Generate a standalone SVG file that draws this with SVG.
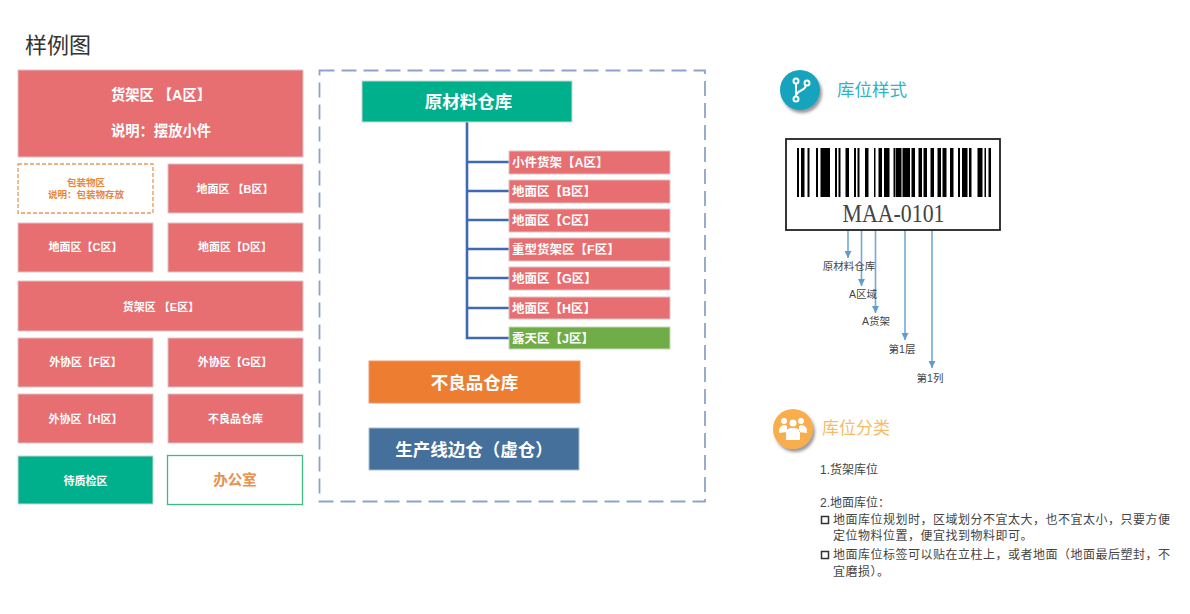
<svg xmlns="http://www.w3.org/2000/svg" width="1190" height="614" viewBox="0 0 1190 614">
<defs>
<style>
text{font-family:"Liberation Sans","Noto Sans CJK SC",sans-serif;}
.c{text-anchor:middle;}
.r{fill:#e76e71;stroke:#dcc4c4;stroke-width:1;}
.w{fill:#fff;font-weight:bold;}
.t10{font-size:11px;}
.t9{font-size:9.5px;font-weight:bold;fill:#e8853c;}
.t14{font-size:14.300px;}
.t16{font-size:17.500px;}
.row{fill:#fff;font-weight:bold;font-size:12.500px;}
.lab{fill:#444;font-size:10.500px;text-anchor:middle;}
.body{fill:#444;font-size:12px;}
.arr{fill:none;stroke:#72aad2;stroke-width:1.600;marker-end:url(#ah);}
.ul{fill:none;stroke:#a9bcd6;stroke-width:1.200;}
.tree{fill:none;stroke:#3f68b5;stroke-width:2.600;}
</style>
<marker id="ah" markerUnits="userSpaceOnUse" markerWidth="8" markerHeight="7" refX="7" refY="3.500" orient="auto"><path d="M0 0L7 3.500L0 7z" fill="#5f9dca"/></marker>
<filter id="sh" x="-30%" y="-30%" width="170%" height="170%"><feDropShadow dx="2" dy="3" stdDeviation="1.500" flood-color="#555" flood-opacity="0.6"/></filter>
</defs>
<rect width="1190" height="614" fill="#fff"/>
<text id="title" x="25" y="53" font-size="22" fill="#333">样例图</text>

<g id="zone-a"><rect class="r" x="18" y="70" width="285" height="87"/><text class="c w t14" x="161" y="100">货架区 【A区】</text><text class="c w t14" x="161" y="136">说明：摆放小件</text></g>
<g id="zone-pack"><rect x="18" y="164" width="135" height="49" fill="#fff" stroke="#e59a5c" stroke-width="1.300" stroke-dasharray="4 2"/><text class="c t9" x="86" y="186">包装物区</text><text class="c t9" x="86" y="198">说明：包装物存放</text></g>
<g id="zone-b"><rect class="r" x="168" y="164" width="135" height="49"/><text class="c w t10" x="235" y="193">地面区 【B区】</text></g>
<g id="zone-c"><rect class="r" x="18" y="223" width="135" height="49"/><text class="c w t10" x="85.500" y="251">地面区【C区】</text></g>
<g id="zone-d"><rect class="r" x="168" y="223" width="135" height="49"/><text class="c w t10" x="235" y="251">地面区【D区】</text></g>
<g id="zone-e"><rect class="r" x="18" y="281" width="285" height="50"/><text class="c w t10" x="161" y="311">货架区 【E区】</text></g>
<g id="zone-f"><rect class="r" x="18" y="338" width="135" height="49"/><text class="c w t10" x="85.500" y="366">外协区【F区】</text></g>
<g id="zone-g"><rect class="r" x="168" y="338" width="135" height="49"/><text class="c w t10" x="235" y="366">外协区【G区】</text></g>
<g id="zone-h"><rect class="r" x="18" y="394" width="135" height="49"/><text class="c w t10" x="85.500" y="423">外协区【H区】</text></g>
<g id="zone-bad"><rect class="r" x="168" y="394" width="135" height="49"/><text class="c w t10" x="235.500" y="423">不良品仓库</text></g>
<g id="zone-qc"><rect x="18" y="456" width="135" height="48" fill="#00af8c" stroke="#c6d8d2"/><text class="c w t10" x="85.500" y="485">待质检区</text></g>
<g id="zone-office"><rect x="167.500" y="455.500" width="135" height="49" fill="#fff" stroke="#3fbb84" stroke-width="1.300"/><text class="c" x="235" y="485" font-size="14.500" font-weight="bold" fill="#e8914f">办公室</text></g>

<rect id="frame" x="319.500" y="70.500" width="385.500" height="431" fill="none" stroke="#8ea3cb" stroke-width="1.800" stroke-dasharray="15 7"/>

<g id="connectors">
<path class="tree" d="M467 122V338H509M467 162H509M467 191H509M467 220H509M467 249H509M467 278H509M467 308H509"/>
<path class="ul" d="M894 224H917M921 224H944"/>
<path class="arr" d="M848 220V258"/>
<path class="arr" d="M861.500 220V286"/>
<path class="arr" d="M875.500 220V313"/>
<path class="arr" d="M905 224V340"/>
<path class="arr" d="M932 224V368"/>
</g>

<g id="raw"><rect x="362" y="81" width="210" height="41" fill="#00af8c" stroke="#c6d8d2"/><text class="c w t16" x="468.500" y="108">原材料仓库</text></g>
<g id="row-a"><rect class="r" x="509" y="151" width="161" height="23"/><text class="row" x="512" y="167">小件货架【A区】</text></g>
<g id="row-b"><rect class="r" x="509" y="180" width="161" height="23"/><text class="row" x="512" y="196">地面区【B区】</text></g>
<g id="row-c"><rect class="r" x="509" y="209" width="161" height="23"/><text class="row" x="512" y="225">地面区【C区】</text></g>
<g id="row-f"><rect class="r" x="509" y="238" width="161" height="23"/><text class="row" x="512" y="254">重型货架区【F区】</text></g>
<g id="row-g"><rect class="r" x="509" y="267" width="161" height="23"/><text class="row" x="512" y="283">地面区【G区】</text></g>
<g id="row-h"><rect class="r" x="509" y="297" width="161" height="22"/><text class="row" x="512" y="313">地面区【H区】</text></g>
<g id="row-j"><rect x="509" y="327" width="161" height="22" fill="#70ad47" stroke="#c8d8bc"/><text class="row" x="512" y="343">露天区【J区】</text></g>
<g id="bad"><rect x="369" y="361" width="211" height="42" fill="#ed7d31" stroke="#f19a74"/><text class="c w t16" x="474.500" y="388.500">不良品仓库</text></g>
<g id="line"><rect x="369" y="428" width="210" height="42" fill="#44709b" stroke="#a9bcd2"/><text class="c w t16" x="474" y="455.500">生产线边仓（虚仓）</text></g>

<g id="style-head">
<circle cx="800" cy="90" r="20" fill="#14a3bd" filter="url(#sh)"/>
<g fill="none" stroke="#fff" stroke-width="2"><circle cx="796" cy="81" r="2.500"/><circle cx="807" cy="83" r="2.500"/><circle cx="796" cy="99" r="2.500"/><path d="M796 83.500V96.500M806 85.500C805 91 797 90 796.500 95"/></g>
<text x="837" y="96" font-size="17.500" fill="#2eb4c8">库位样式</text>
</g>

<g id="barcode">
<rect x="786" y="139" width="214" height="91" fill="#fff" stroke="#222" stroke-width="1.800"/>
<path fill="#000" d="M797 148h2v49h-2zM801 148h3.500v49h-3.500zM807.500 148h2v49h-2zM816 148h2v49h-2zM820.500 148h9.500v49h-9.500zM835 148h2v49h-2zM838.500 148h2v49h-2zM845.500 148h3.500v49h-3.500zM854 148h2v49h-2zM857.500 148h2v49h-2zM865 148h3.500v49h-3.500zM874 148h1.500v49h-1.500zM878.500 148h3.500v49h-3.500zM884 148h5.500v49h-5.500zM893.500 148h2v49h-2zM896 148h5.500v49h-5.500zM902.500 148h7.500v49h-7.500zM911.500 148h3.500v49h-3.500zM918.500 148h3.500v49h-3.500zM923.500 148h3.500v49h-3.500zM930.500 148h3.500v49h-3.500zM937.500 148h3.500v49h-3.500zM942.500 148h4v49h-4zM950 148h3.500v49h-3.500zM958 148h2v49h-2zM962 148h5.500v49h-5.500zM969 148h2.500v49h-2.500zM977.500 148h5v49h-5zM984.500 148h1.500v49h-1.500zM988.500 148h2.500v49h-2.500z"/>
<text x="842.500" y="222" font-size="25" fill="#444" textLength="102" lengthAdjust="spacingAndGlyphs" style="font-family:'Liberation Serif','Noto Sans CJK SC',serif">MAA-0101</text>
</g>
<text class="lab" x="849" y="270">原材料仓库</text>
<text class="lab" x="863" y="298">A区域</text>
<text class="lab" x="876" y="325">A货架</text>
<text class="lab" x="902" y="353">第1层</text>
<text class="lab" x="930" y="382">第1列</text>

<g id="class-head">
<circle cx="793" cy="429" r="20" fill="#f8ae4e" filter="url(#sh)"/>
<g fill="#fff"><circle cx="793" cy="423" r="3.500"/><circle cx="784" cy="421" r="3"/><circle cx="801" cy="421" r="3"/><path d="M779 431c0-5 4-6 6-6l2 1 0 6-8 1zM807 431c0-5-4-6-6-6l-2 1 0 6 8 1zM786 440v-7c0-4 3-5 7-5s7 1 7 5v7z"/></g>
<text x="822" y="434" font-size="17" fill="#f5bd6b">库位分类</text>
</g>

<g id="notes">
<text class="body" x="820" y="474">1.货架库位</text>
<text class="body" x="820" y="507">2.地面库位：</text>
<rect x="821.500" y="516.500" width="7" height="7" fill="none" stroke="#333" stroke-width="1.500"/>
<text class="body" x="833" y="524" letter-spacing="0.5">地面库位规划时，区域划分不宜太大，也不宜太小，只要方便</text>
<text class="body" x="833" y="540" letter-spacing="0.5">定位物料位置，便宜找到物料即可。</text>
<rect x="821.500" y="551.500" width="7" height="7" fill="none" stroke="#333" stroke-width="1.500"/>
<text class="body" x="833" y="559" letter-spacing="0.5">地面库位标签可以贴在立柱上，或者地面（地面最后塑封，不</text>
<text class="body" x="833" y="576" letter-spacing="0.5">宜磨损）。</text>
</g>
</svg>
